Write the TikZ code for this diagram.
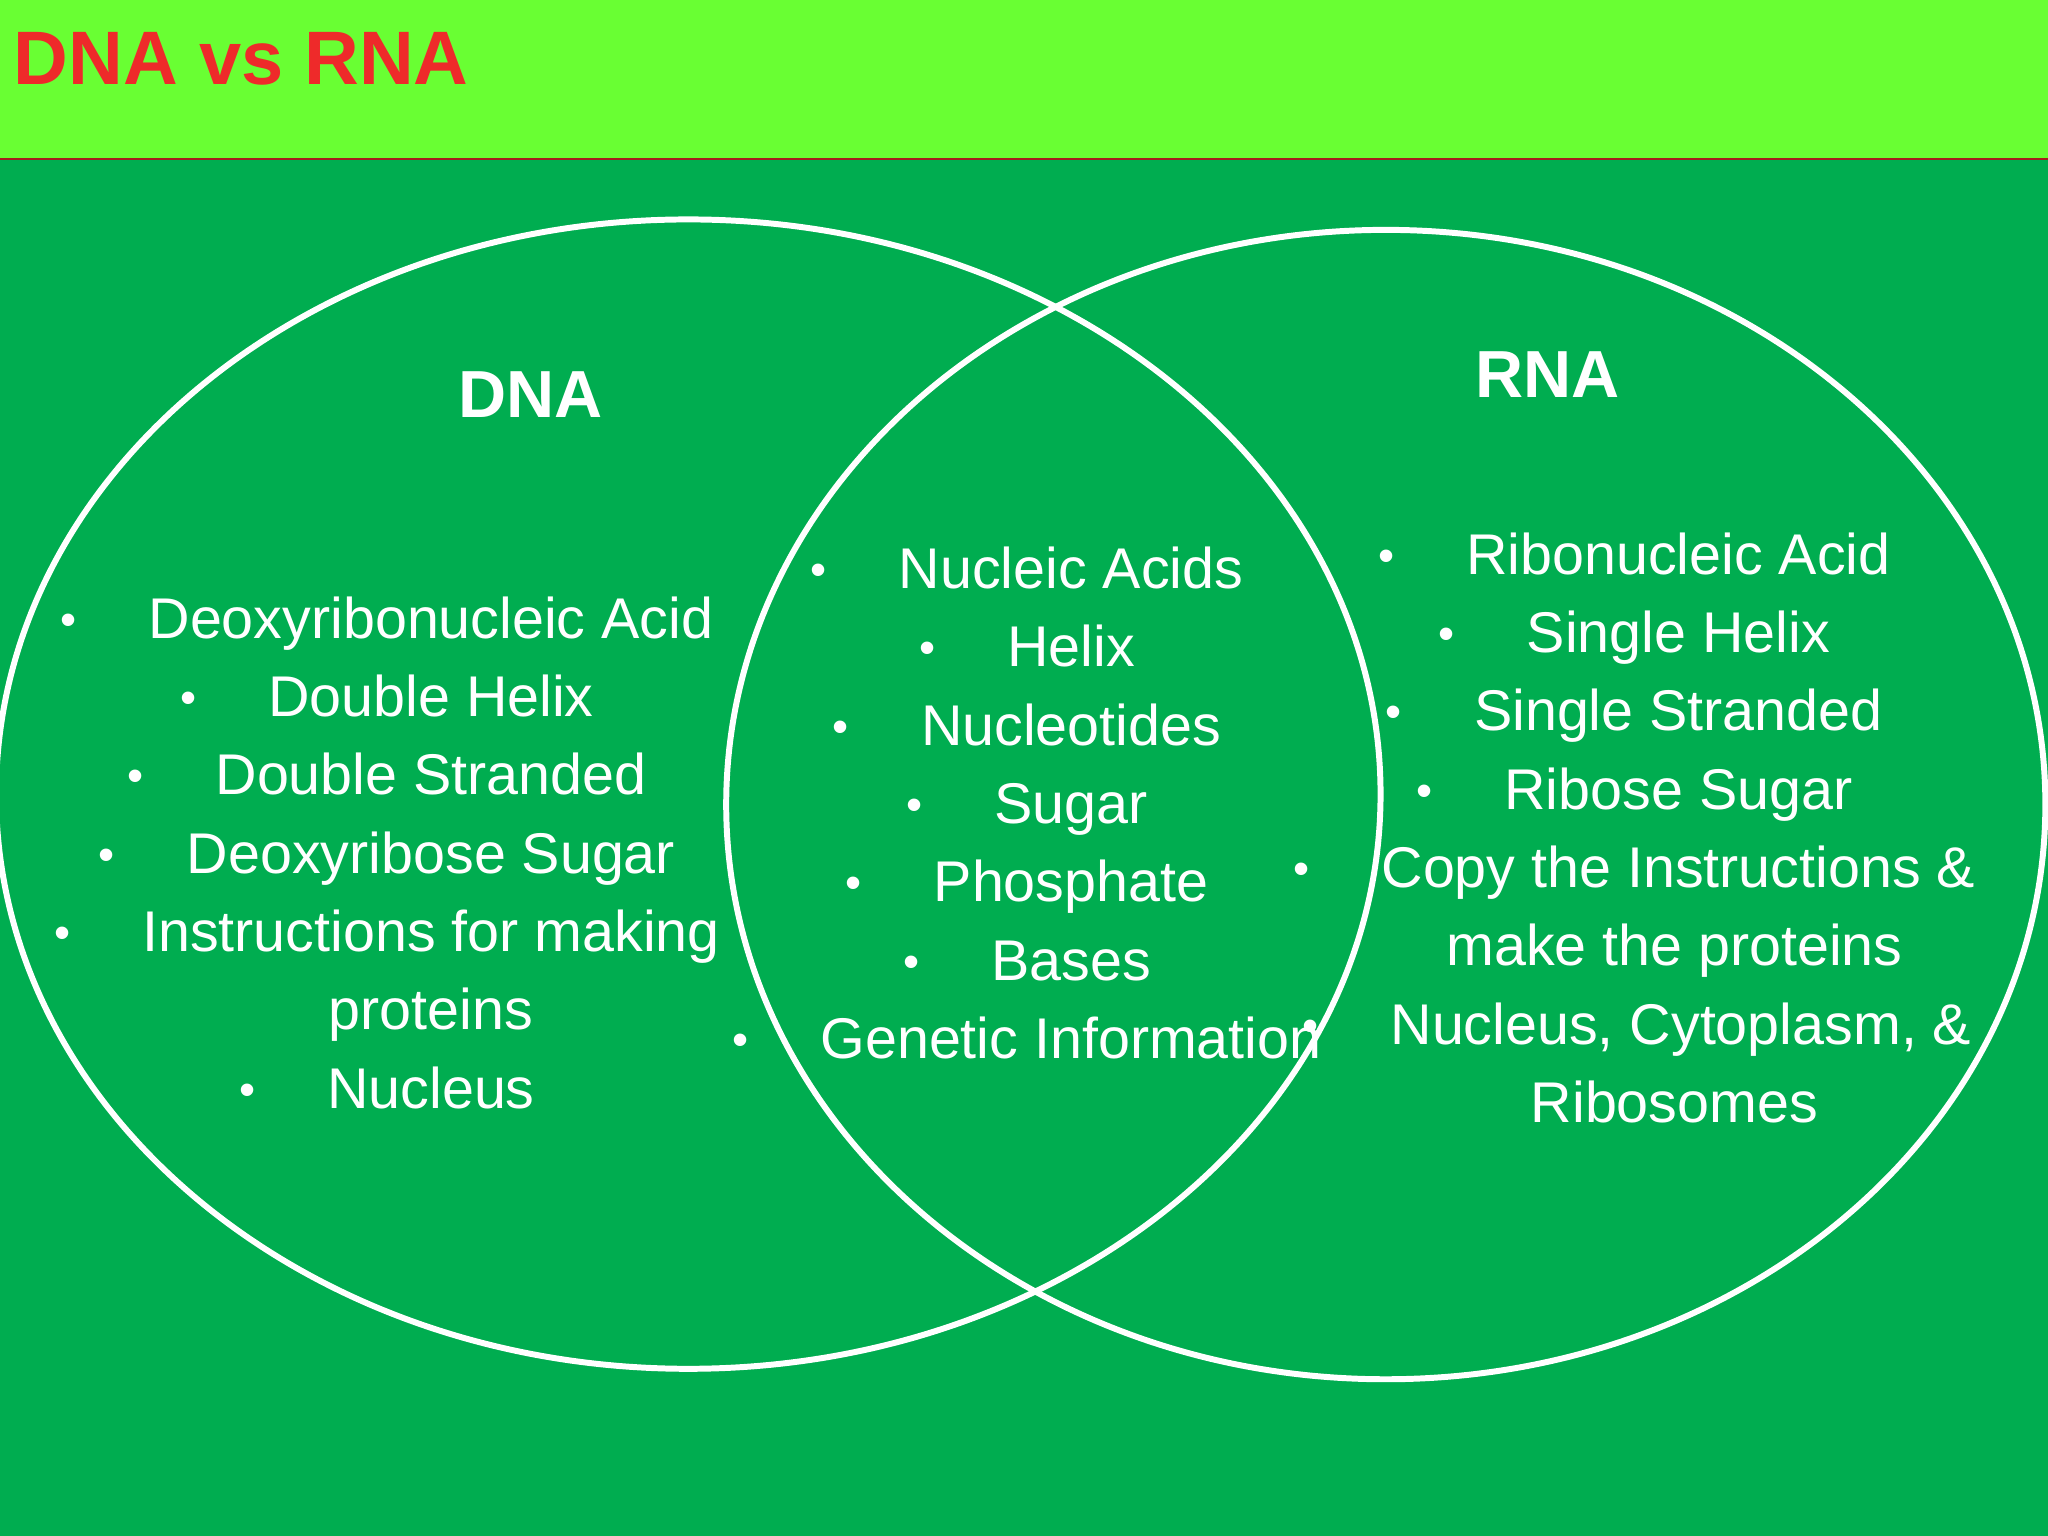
\documentclass[tikz,border=0pt]{standalone}
\usepackage{fontspec}
\setmainfont{Liberation Sans}
\definecolor{band}{HTML}{69FF33}
\definecolor{field}{HTML}{00AD50}
\definecolor{titlered}{HTML}{EE2A2A}
\tikzset{
    entry/.style={text=white, font=\fontsize{12.5}{15}\selectfont, inner sep=0pt, text height=9pt, text depth=3pt},
    dot/.style={entry, label={[white, label distance=0.42cm]left:\textbullet}},
    head/.style={text=white, font=\fontsize{14.5}{17}\selectfont\bfseries},
}
\begin{document}
\begin{tikzpicture}[x=0.01cm, y=-0.01cm]

    % background and title band
    \useasboundingbox (0,0) rectangle (1568,1176);
    \fill[field] (0,0) rectangle (1568,1176);
    \fill[band] (0,0) rectangle (1568,122);
    \draw[titlered!70!black, thin] (0,122) -- (1568,122);
    \node[anchor=west, text=titlered, font=\fontsize{16.5}{20}\selectfont\bfseries, inner sep=0pt] (title) at (10,45) {DNA vs RNA};

    % the two sets
    \draw[white, line width=1.3pt] (527,608) ellipse [x radius=530, y radius=440];
    \draw[white, line width=1.3pt] (1061,616) ellipse [x radius=505, y radius=440];

    \node[head] (dna) at (406,302) {DNA};
    \node[head] (rna) at (1185,287) {RNA};

    % DNA only
    \foreach \txt [count=\i] in {Deoxyribonucleic Acid, Double Helix, Double Stranded, Deoxyribose Sugar, Instructions for making}
        \node[dot] (d\i) at (330,418+60*\i) {\txt};
    \node[entry] (d6) at (330,778) {proteins};
    \node[dot] (d7) at (330,838) {Nucleus};

    % shared
    \foreach \txt [count=\i] in {Nucleic Acids, Helix, Nucleotides, Sugar, Phosphate, Bases, Genetic Information}
        \node[dot] (m\i) at (820,380+60*\i) {\txt};

    % RNA only
    \foreach \txt [count=\i] in {Ribonucleic Acid, Single Helix, Single Stranded, Ribose Sugar, Copy the Instructions \&}
        \node[dot] (r\i) at (1285,369+60*\i) {\txt};
    \node[entry] (r6) at (1282,729) {make the proteins};
    \node[dot] (r7) at (1287,789) {Nucleus, Cytoplasm, \&};
    \node[entry] (r8) at (1282,849) {Ribosomes};

\end{tikzpicture}
\end{document}
